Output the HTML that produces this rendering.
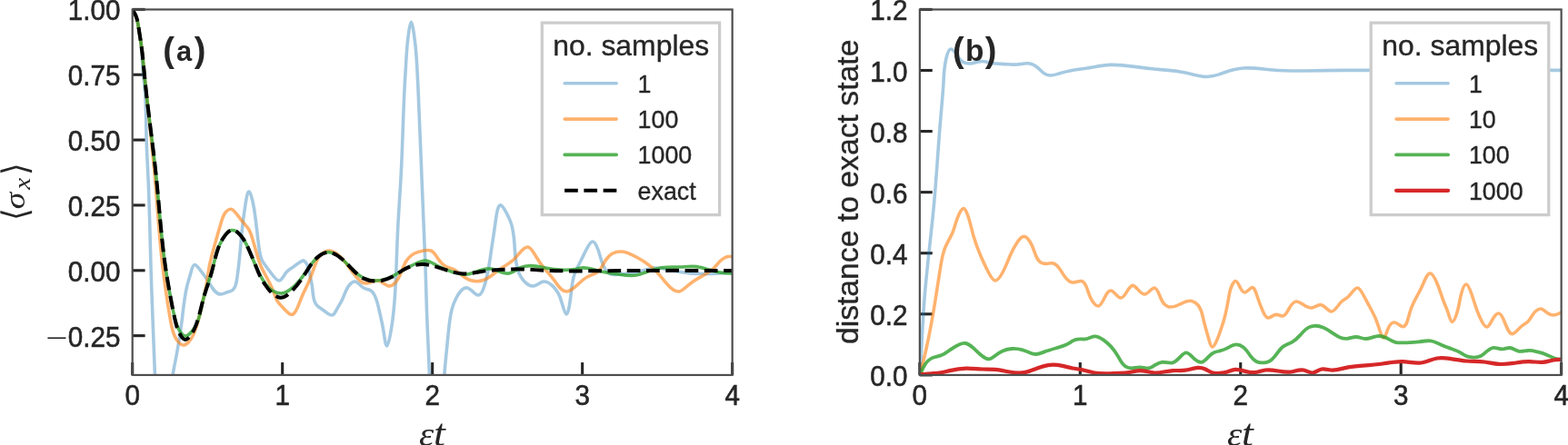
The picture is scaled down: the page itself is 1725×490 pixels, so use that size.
<!DOCTYPE html>
<html lang="en">
<head>
<meta charset="utf-8">
<title>Sampling convergence</title>
<style>
html,body{margin:0;padding:0;background:#ffffff;}
body{width:1725px;height:490px;overflow:hidden;}
svg{display:block;}
text{font-family:'Liberation Sans', sans-serif;fill:#262626;}
.tk{stroke:#262626;stroke-width:0.6px;}
.lg{stroke:#262626;stroke-width:0.35px;}
.m{font-family:'Liberation Serif', serif;font-style:italic;}
</style>
</head>
<body>
<svg width="1725" height="490" viewBox="0 0 1725 490">
<rect x="0" y="0" width="1725" height="490" fill="#ffffff"/>
<defs>
<clipPath id="clip_a"><rect x="145.70" y="10.45" width="659.95" height="402.50"/></clipPath>
<clipPath id="clip_b"><rect x="1011.85" y="10.45" width="705.80" height="402.50"/></clipPath>
</defs>
<g id="panel-a">
<g stroke="#262626" stroke-width="3.10" fill="none">
<line x1="145.70" y1="412.95" x2="145.70" y2="399.05"/>
<line x1="310.69" y1="412.95" x2="310.69" y2="399.05"/>
<line x1="475.68" y1="412.95" x2="475.68" y2="399.05"/>
<line x1="640.66" y1="412.95" x2="640.66" y2="399.05"/>
<line x1="805.65" y1="412.95" x2="805.65" y2="399.05"/>
<line x1="145.70" y1="10.40" x2="159.60" y2="10.40"/>
<line x1="145.70" y1="82.25" x2="159.60" y2="82.25"/>
<line x1="145.70" y1="154.10" x2="159.60" y2="154.10"/>
<line x1="145.70" y1="225.95" x2="159.60" y2="225.95"/>
<line x1="145.70" y1="297.80" x2="159.60" y2="297.80"/>
<line x1="145.70" y1="369.65" x2="159.60" y2="369.65"/>
</g>
<g clip-path="url(#clip_a)">
<path d="M145.50,10.30C146.89,12.48 148.28,14.67 149.30,17.00C151.07,21.05 151.73,25.55 152.40,30.00C153.42,36.72 154.48,43.33 155.20,50.00C156.28,59.93 156.61,70.00 157.50,80.00C158.04,86.01 158.77,92.00 159.30,98.00C160.81,115.26 160.57,132.66 161.00,150.00C161.38,165.35 162.29,180.66 163.00,196.00C164.50,228.66 165.06,261.45 166.00,294.00C166.94,326.56 168.25,358.87 169.60,392.00C169.88,398.76 170.15,405.56 170.40,412.00C171.48,440.35 171.92,461.87 174.00,500.00C175.42,526.10 177.61,559.99 180.00,560.00C182.39,560.01 184.99,526.15 186.00,500.00C187.47,461.79 185.54,440.03 190.20,412.00C191.28,405.52 192.71,398.71 194.00,392.00C196.45,379.32 198.42,367.02 200.00,354.00C201.67,340.31 202.91,325.83 206.00,314.00C207.11,309.74 208.47,305.82 210.00,300.00C210.99,296.24 212.06,291.69 214.00,291.50C215.69,291.34 218.03,294.45 220.00,297.00C223.29,301.27 225.53,303.98 228.00,308.00C231.98,314.48 236.53,324.35 243.00,324.00C245.16,323.88 247.54,322.63 250.00,321.80C252.17,321.07 254.40,320.68 256.00,319.40C257.56,318.15 258.52,316.07 259.20,314.00C260.20,310.98 260.60,308.00 261.00,305.00C261.48,301.38 261.96,297.73 262.40,294.00C263.91,281.16 264.93,267.35 266.00,256.00C266.88,246.70 267.79,239.05 270.00,225.00C271.03,218.46 272.34,210.52 274.00,211.00C275.33,211.38 276.90,217.20 278.00,222.00C279.72,229.48 280.34,234.49 281.00,240.00C282.14,249.44 283.42,260.37 284.70,271.00C285.37,276.60 286.04,282.12 288.50,287.00C290.13,290.24 292.55,293.20 294.70,296.00C296.43,298.25 297.97,300.38 300.00,303.00C302.13,305.75 304.78,309.02 307.00,309.00C309.90,308.97 312.07,303.31 314.90,299.90C316.77,297.64 318.93,296.37 321.10,294.90C323.17,293.50 325.25,291.92 327.30,290.50C328.89,289.40 330.45,288.39 332.30,287.40C332.80,287.13 333.31,286.87 333.80,286.90C334.42,286.94 335.00,287.47 335.50,288.00C336.55,289.12 337.29,290.27 337.90,291.50C339.60,294.95 340.22,299.03 341.00,303.00C341.86,307.41 342.91,311.68 343.50,316.00C343.96,319.35 344.14,322.72 344.70,326.20C345.28,329.79 346.27,333.48 348.50,336.10C350.48,338.42 353.45,339.90 356.00,341.80C358.35,343.55 360.35,345.66 363.20,346.60C364.00,346.86 364.86,347.03 365.60,346.90C367.46,346.57 368.53,344.34 369.60,342.30C372.33,337.11 375.11,333.19 377.10,328.70C379.24,323.86 380.47,318.36 384.50,313.70C386.10,311.85 388.14,310.14 390.00,310.00C393.43,309.75 396.24,314.87 400.00,317.00C402.63,318.49 405.72,318.53 408.00,320.00C409.71,321.10 410.97,323.01 412.00,325.00C414.70,330.20 415.85,335.91 417.00,341.00C418.68,348.44 420.35,354.54 422.00,365.00C423.10,372.00 424.19,380.94 425.60,381.00C427.03,381.06 428.78,372.02 430.00,365.00C431.64,355.61 432.33,349.84 433.00,343.00C433.55,337.43 434.08,331.15 434.50,325.00C435.23,314.43 435.62,304.26 436.00,294.00C436.59,277.79 437.12,261.39 438.00,245.00C438.88,228.59 440.10,212.20 441.00,196.00C442.80,163.62 443.33,131.98 445.00,98.00C445.65,84.81 446.47,71.27 447.20,60.00C447.66,52.86 448.09,46.63 449.60,36.00C450.36,30.70 451.38,24.30 452.40,24.30C453.42,24.30 454.43,30.70 455.20,36.00C456.75,46.64 457.36,52.86 457.90,60.00C458.74,71.25 459.40,84.81 460.00,98.00C461.55,132.00 462.73,163.59 464.00,196.00C464.64,212.21 465.30,228.61 466.00,245.00C466.70,261.39 467.45,277.75 468.00,294.00C468.55,310.25 468.90,326.39 469.50,343.00C470.33,366.07 471.64,390.04 472.40,411.00C473.28,435.35 473.42,455.62 476.00,490.00C477.32,507.53 479.27,528.72 481.00,530.00C483.16,531.59 484.97,502.24 486.00,480.00C487.42,449.43 487.38,432.28 489.00,411.00C489.99,398.00 491.60,383.46 493.00,369.00C493.94,359.31 494.79,349.65 497.00,341.00C498.09,336.74 499.51,332.72 502.00,328.00C504.91,322.48 509.28,315.99 514.00,317.00C518.18,317.89 522.63,324.67 526.00,325.00C529.77,325.37 532.20,317.69 534.00,311.00C537.64,297.49 538.73,288.03 540.00,279.00C541.34,269.47 542.90,260.43 545.00,245.00C546.22,236.06 547.62,224.96 551.00,226.00C553.07,226.63 555.87,231.82 558.00,236.00C559.71,239.37 560.99,242.09 562.00,245.00C564.50,252.20 565.44,260.59 566.00,269.00C566.75,280.19 566.84,291.40 571.00,301.00C572.21,303.80 573.77,306.46 576.00,309.00C578.96,312.38 583.10,315.54 587.00,315.00C590.76,314.48 594.28,310.51 598.00,310.00C602.28,309.41 606.81,313.38 610.00,317.00C612.68,320.04 614.42,322.83 616.00,327.00C618.74,334.25 621.01,345.66 623.00,346.00C625.12,346.36 626.91,334.12 628.00,325.00C629.18,315.14 629.53,308.93 632.00,302.00C633.98,296.42 637.34,290.38 640.00,285.00C641.90,281.16 643.45,277.65 646.00,273.00C647.75,269.81 649.97,266.08 652.00,266.00C654.38,265.91 656.51,270.85 658.00,275.00C660.60,282.29 661.23,287.16 664.00,293.00C665.76,296.71 668.39,300.80 672.00,302.00C674.40,302.80 677.23,302.32 680.00,302.00C686.96,301.20 693.50,301.39 700.00,300.00C706.66,298.58 713.27,295.50 720.00,295.00C726.60,294.51 733.32,296.51 740.00,298.00C746.68,299.49 753.31,300.46 760.00,301.00C770.59,301.86 781.34,301.66 792.00,301.00C796.51,300.72 801.01,300.36 805.50,300.00" fill="none" stroke="#1f77b4" stroke-opacity="0.40" stroke-width="3.60" stroke-linejoin="round" stroke-linecap="round"/>
<path d="M145.50,10.30C146.89,12.48 148.28,14.67 149.30,17.00C151.07,21.05 151.71,25.55 152.40,30.00C153.44,36.73 154.59,43.34 155.50,50.00C156.58,57.95 157.33,65.98 158.10,74.00C158.87,82.01 159.67,90.01 160.50,98.00C163.88,130.65 167.69,163.26 170.50,196.00C173.31,228.70 175.13,261.52 179.00,294.00C180.19,303.99 181.57,313.95 183.00,324.00C184.72,336.12 186.50,348.37 189.00,360.00C190.11,365.15 191.36,370.18 195.00,375.00C197.01,377.66 199.76,380.27 202.40,380.00C204.44,379.80 206.41,377.89 208.00,376.00C209.67,374.02 210.91,372.06 212.00,370.00C215.97,362.50 217.95,353.65 220.00,345.00C222.95,332.52 226.06,320.44 228.00,308.00C228.69,303.58 229.23,299.12 230.00,294.70C231.75,284.64 234.65,274.84 237.50,265.00C239.58,257.81 241.64,250.60 243.70,243.50C244.75,239.88 245.81,236.29 248.60,233.20C250.09,231.55 252.08,230.04 253.90,230.20C255.63,230.35 257.22,232.03 258.60,233.60C260.50,235.76 262.02,237.74 263.60,239.80C265.16,241.85 266.78,243.97 268.50,246.00C270.24,248.04 272.09,249.98 273.50,252.20C275.45,255.26 276.55,258.85 277.60,262.40C279.21,267.84 280.68,273.20 282.20,278.60C283.62,283.64 285.08,288.72 287.20,293.50C288.33,296.06 289.66,298.53 291.00,301.00C294.55,307.53 298.23,313.99 300.80,321.00C302.06,324.43 303.05,328.00 304.90,331.10C306.86,334.39 309.78,337.15 312.40,339.90C314.15,341.73 315.76,343.56 318.00,345.20C318.98,345.91 320.07,346.59 321.10,346.50C322.18,346.41 323.18,345.47 324.00,344.50C325.57,342.64 326.45,340.64 327.30,338.60C328.98,334.56 330.52,330.31 332.30,326.20C334.68,320.71 337.47,315.44 339.80,310.00C342.38,303.97 344.39,297.74 346.80,291.50C348.50,287.09 350.41,282.67 354.00,279.50C356.24,277.52 359.14,276.03 362.00,276.00C364.80,275.97 367.56,277.33 370.00,279.00C374.04,281.76 377.18,285.34 380.00,289.00C383.99,294.18 387.32,299.51 392.00,305.00C394.86,308.35 398.22,311.76 402.00,312.00C406.44,312.28 411.45,308.20 416.00,309.00C420.26,309.75 424.10,314.77 428.00,315.00C431.72,315.22 435.49,311.08 438.00,307.00C441.86,300.73 442.75,294.61 446.00,289.00C448.33,284.97 451.88,281.20 456.00,279.00C459.04,277.38 462.39,276.62 466.00,276.00C468.77,275.53 471.69,275.14 474.00,276.00C477.48,277.30 479.60,281.43 482.00,285.00C484.25,288.36 486.76,291.23 490.00,293.00C493.08,294.69 496.83,295.38 500.00,297.00C504.41,299.25 507.69,303.30 512.00,306.00C516.70,308.94 522.62,310.28 528.00,309.40C532.33,308.69 536.31,306.54 540.00,304.00C544.20,301.11 548.01,297.72 552.00,295.00C556.57,291.88 561.37,289.66 566.00,285.00C571.34,279.63 576.46,271.02 581.00,272.00C584.25,272.70 587.21,278.33 590.00,283.00C593.38,288.65 596.53,292.91 600.00,297.00C603.15,300.71 606.58,304.28 610.00,309.00C613.88,314.35 617.75,321.17 623.00,321.00C625.26,320.93 627.77,319.55 630.00,318.00C636.03,313.79 639.98,308.24 646.00,305.00C649.92,302.89 654.71,301.75 658.00,299.00C661.54,296.04 663.35,291.22 666.00,287.00C668.08,283.69 670.68,280.76 674.00,279.00C677.00,277.41 680.58,276.77 684.00,277.00C689.72,277.38 694.97,280.20 700.00,283.00C703.43,284.91 706.76,286.82 710.00,289.00C715.12,292.45 720.00,296.57 724.00,301.00C727.39,304.75 730.15,308.73 734.00,313.00C737.76,317.18 742.56,321.64 747.00,321.00C750.15,320.54 753.12,317.52 756.00,315.00C758.66,312.67 761.24,310.76 764.00,309.00C767.83,306.56 771.99,304.41 776.00,302.00C779.61,299.83 783.10,297.46 786.00,294.50C788.09,292.37 789.87,289.94 792.00,287.80C793.48,286.31 795.14,284.96 797.00,284.00C798.26,283.35 799.61,282.87 801.00,282.60C802.48,282.31 803.99,282.26 805.50,282.20" fill="none" stroke="#ff7f0e" stroke-opacity="0.60" stroke-width="3.60" stroke-linejoin="round" stroke-linecap="round"/>
<path d="M145.50,10.30C146.89,12.48 148.28,14.67 149.30,17.00C151.07,21.05 151.71,25.55 152.40,30.00C153.44,36.73 154.59,43.34 155.50,50.00C156.59,57.95 157.33,65.98 158.10,74.00C158.86,82.01 159.65,90.01 160.50,98.00C163.99,130.69 168.68,163.23 172.00,196.00C175.31,228.72 177.26,261.65 182.00,294.00C183.46,303.99 185.20,313.92 187.00,324.00C188.76,333.82 190.58,343.78 193.00,353.00C194.06,357.05 195.24,360.95 198.00,365.00C199.73,367.53 202.07,370.12 204.40,370.00C206.37,369.90 208.33,367.86 210.00,366.00C211.56,364.27 212.87,362.69 214.00,361.00C220.11,351.88 221.16,339.37 224.00,328.00C226.33,318.66 229.87,310.09 232.50,301.00C234.78,293.13 236.37,284.86 238.70,277.30C240.19,272.47 241.97,267.93 245.00,263.00C247.75,258.53 251.51,253.73 255.50,253.50C259.70,253.25 264.13,258.06 267.30,262.60C270.81,267.63 272.76,272.35 274.80,277.30C277.13,282.97 279.58,288.94 282.20,294.70C283.01,296.48 283.84,298.25 284.70,300.00C286.82,304.33 289.13,308.60 292.00,312.50C294.21,315.51 296.76,318.31 300.00,320.30C302.86,322.06 306.26,323.19 309.50,323.00C313.68,322.75 317.57,320.28 321.00,317.50C327.71,312.05 332.61,305.37 337.20,298.50C340.71,293.25 344.04,287.88 349.00,283.50C352.33,280.55 356.40,278.06 360.50,277.80C365.96,277.46 371.48,281.09 376.00,285.00C380.49,288.88 384.00,293.05 388.00,297.00C391.54,300.49 395.47,303.83 400.00,306.00C404.32,308.07 409.20,309.09 414.00,309.00C420.27,308.88 426.41,306.88 432.00,304.00C436.16,301.86 440.01,299.23 444.00,297.00C447.85,294.85 451.84,293.07 456.00,291.00C459.93,289.05 464.02,286.83 468.00,287.00C472.10,287.18 476.08,289.87 480.00,292.00C483.32,293.80 486.59,295.19 490.00,296.60C497.62,299.75 505.93,302.99 514.00,302.00C522.75,300.92 531.22,294.86 540.00,296.00C546.78,296.88 553.75,302.06 560.00,301.00C564.07,300.31 567.84,296.97 572.00,295.00C575.80,293.20 579.93,292.54 584.00,292.60C589.39,292.68 594.68,294.02 600.00,295.00C605.30,295.98 610.62,296.60 616.00,297.00C621.34,297.40 626.73,297.59 632.00,296.60C634.68,296.09 637.34,295.28 640.00,295.00C646.63,294.30 653.34,296.92 660.00,298.60C666.65,300.28 673.24,301.03 680.00,302.00C686.67,302.96 693.50,304.13 700.00,303.00C703.39,302.41 706.69,301.20 710.00,300.00C715.93,297.84 721.88,295.71 728.00,294.80C734.54,293.83 741.27,294.27 748.00,294.00C754.05,293.76 760.09,292.94 766.00,293.60C770.73,294.13 775.37,295.60 780.00,297.00C783.98,298.20 787.95,299.34 792.00,300.00C796.43,300.72 800.97,300.86 805.50,301.00" fill="none" stroke="#2ca02c" stroke-opacity="0.80" stroke-width="3.60" stroke-linejoin="round" stroke-linecap="round"/>
<path d="M145.50,10.30C146.89,12.48 148.28,14.67 149.30,17.00C151.07,21.05 151.71,25.55 152.40,30.00C153.44,36.73 154.59,43.34 155.50,50.00C156.59,57.95 157.33,65.98 158.10,74.00C158.87,82.01 159.65,90.01 160.50,98.00C163.99,130.68 168.67,163.22 172.00,196.00C175.32,228.73 177.29,261.70 182.00,294.00C183.46,303.97 185.17,313.88 187.00,324.00C188.84,334.18 190.79,344.56 193.00,354.00C194.07,358.59 195.21,362.95 198.00,368.00C199.59,370.88 201.73,373.99 204.00,374.00C206.09,374.01 208.31,371.39 210.00,369.00C211.75,366.54 212.94,364.32 214.00,362.00C218.66,351.79 220.75,339.50 224.00,328.00C226.60,318.82 229.94,310.14 232.50,301.00C234.72,293.09 236.35,284.84 238.70,277.30C240.20,272.49 242.00,267.97 245.00,263.00C247.75,258.46 251.51,253.54 255.50,253.30C259.69,253.05 264.14,257.98 267.30,262.60C270.77,267.68 272.69,272.39 274.80,277.30C277.22,282.92 279.90,288.80 282.20,294.70C283.02,296.81 283.80,298.93 284.70,301.00C286.68,305.56 289.25,309.90 292.00,314.00C294.29,317.41 296.72,320.66 300.00,323.50C302.52,325.68 305.55,327.62 308.50,327.80C312.99,328.07 317.31,324.28 321.00,320.50C327.86,313.46 332.54,306.44 337.20,299.00C340.57,293.61 343.94,288.00 349.00,283.50C352.33,280.53 356.40,278.05 360.50,277.80C365.95,277.47 371.46,281.12 376.00,285.00C380.51,288.86 384.07,292.95 388.00,297.00C391.56,300.67 395.42,304.31 400.00,306.60C404.27,308.73 409.16,309.69 414.00,309.60C420.31,309.49 426.52,307.60 432.00,304.60C436.17,302.32 439.91,299.40 444.00,297.00C447.74,294.80 451.77,293.04 456.00,292.00C459.27,291.20 462.65,290.82 466.00,291.00C468.02,291.11 470.02,291.41 472.00,291.80C478.12,293.01 484.00,295.04 490.00,297.00C496.56,299.14 503.25,301.18 510.00,301.40C516.64,301.61 523.32,300.05 530.00,299.00C536.66,297.95 543.32,297.41 550.00,297.00C557.32,296.56 564.66,296.28 572.00,296.40C581.34,296.55 590.67,297.35 600.00,297.80C610.66,298.32 621.33,298.39 632.00,298.40C654.67,298.42 677.33,298.14 700.00,298.00C735.16,297.78 770.33,297.89 805.50,298.00" fill="none" stroke="#000000" stroke-opacity="1.00" stroke-width="4.00" stroke-linejoin="round" stroke-linecap="butt" stroke-dasharray="14.70 6.573"/>
</g>
<rect x="145.70" y="10.45" width="659.95" height="402.50" fill="none" stroke="#4e4e4e" stroke-width="2.20"/>
<text transform="translate(145.70,445.60) scale(0.926,1)" font-size="32.0" text-anchor="middle" class="tk">0</text>
<text transform="translate(310.69,445.60) scale(0.926,1)" font-size="32.0" text-anchor="middle" class="tk">1</text>
<text transform="translate(475.68,445.60) scale(0.926,1)" font-size="32.0" text-anchor="middle" class="tk">2</text>
<text transform="translate(640.66,445.60) scale(0.926,1)" font-size="32.0" text-anchor="middle" class="tk">3</text>
<text transform="translate(805.65,445.60) scale(0.926,1)" font-size="32.0" text-anchor="middle" class="tk">4</text>
<text transform="translate(132.50,22.40) scale(0.926,1)" font-size="32.0" text-anchor="end" class="tk">1.00</text>
<text transform="translate(132.50,94.25) scale(0.926,1)" font-size="32.0" text-anchor="end" class="tk">0.75</text>
<text transform="translate(132.50,166.10) scale(0.926,1)" font-size="32.0" text-anchor="end" class="tk">0.50</text>
<text transform="translate(132.50,237.95) scale(0.926,1)" font-size="32.0" text-anchor="end" class="tk">0.25</text>
<text transform="translate(132.50,309.80) scale(0.926,1)" font-size="32.0" text-anchor="end" class="tk">0.00</text>
<g><text transform="translate(74.60,379.75) scale(1.290,0.720)" font-size="32.0" text-anchor="end">−</text><text transform="translate(132.50,381.65) scale(0.926,1)" font-size="32.0" text-anchor="end" class="tk">0.25</text></g>
<text transform="translate(475.37,490.60) scale(1.100,1)" font-size="37.5" text-anchor="middle" class="m">ε<tspan dx="-0.2" font-size="42">t</tspan></text>
<g transform="translate(27.00,240.00) rotate(-90)">
<text transform="translate(-2.90,2.60) scale(0.900,1)" font-family="'DejaVu Sans', sans-serif" fill="#3c3c3c" font-size="39.1">⟨</text>
<text transform="translate(9.80,0) scale(1.220,1)" class="m" font-size="30.6">σ</text>
<text transform="translate(31.30,5.60) scale(1.146,1)" class="m" font-size="25.6">x</text>
<text transform="translate(47.00,2.60) scale(0.900,1)" font-family="'DejaVu Sans', sans-serif" fill="#3c3c3c" font-size="39.1">⟩</text>
</g>
<text y="66.6" font-weight="bold" font-size="38"><tspan x="179.20" dy="0.9">(</tspan><tspan x="193.90" dy="-0.9" font-size="30.8">a</tspan><tspan x="213.70" dy="0.9">)</tspan></text>
<rect x="596.30" y="25.10" width="195.30" height="211.50" fill="#ffffff" stroke="#cccccc" stroke-width="3.3"/>
<text x="608.20" y="60.80" font-size="32.0" textLength="172.0" lengthAdjust="spacingAndGlyphs" class="lg">no. samples</text>
<line x1="621.2" y1="91.8" x2="678.2" y2="91.8" stroke="#1f77b4" stroke-opacity="0.40" stroke-width="3.60" stroke-linecap="round"/>
<text transform="translate(701.60,101.80) scale(0.976,1)" font-size="27.5" class="lg">1</text>
<line x1="621.2" y1="131.1" x2="678.2" y2="131.1" stroke="#ff7f0e" stroke-opacity="0.60" stroke-width="3.60" stroke-linecap="round"/>
<text transform="translate(701.60,141.10) scale(0.976,1)" font-size="27.5" class="lg">100</text>
<line x1="621.2" y1="170.4" x2="678.2" y2="170.4" stroke="#2ca02c" stroke-opacity="0.80" stroke-width="3.60" stroke-linecap="round"/>
<text transform="translate(701.60,180.40) scale(0.976,1)" font-size="27.5" class="lg">1000</text>
<line x1="621.1" y1="209.8" x2="679.1" y2="209.8" stroke="#000000" stroke-width="4.00" stroke-dasharray="14.70 6.573"/>
<text transform="translate(701.60,219.80) scale(0.976,1)" font-size="27.5" class="lg">exact</text>
</g>
<g id="panel-b">
<g stroke="#262626" stroke-width="3.10" fill="none">
<line x1="1011.85" y1="412.95" x2="1011.85" y2="399.05"/>
<line x1="1188.30" y1="412.95" x2="1188.30" y2="399.05"/>
<line x1="1364.75" y1="412.95" x2="1364.75" y2="399.05"/>
<line x1="1541.20" y1="412.95" x2="1541.20" y2="399.05"/>
<line x1="1717.65" y1="412.95" x2="1717.65" y2="399.05"/>
<line x1="1011.85" y1="412.90" x2="1025.75" y2="412.90"/>
<line x1="1011.85" y1="345.82" x2="1025.75" y2="345.82"/>
<line x1="1011.85" y1="278.74" x2="1025.75" y2="278.74"/>
<line x1="1011.85" y1="211.66" x2="1025.75" y2="211.66"/>
<line x1="1011.85" y1="144.58" x2="1025.75" y2="144.58"/>
<line x1="1011.85" y1="77.50" x2="1025.75" y2="77.50"/>
<line x1="1011.85" y1="10.42" x2="1025.75" y2="10.42"/>
</g>
<g clip-path="url(#clip_b)">
<path d="M1012.40,412.40C1013.66,382.93 1014.92,353.47 1017.40,324.00C1020.15,291.21 1024.41,258.42 1027.40,226.00C1030.38,193.65 1032.10,161.65 1035.00,128.00C1036.12,114.95 1037.42,101.65 1038.00,90.00C1038.40,82.00 1038.45,74.78 1041.00,64.00C1042.09,59.39 1043.63,54.14 1046.00,54.00C1048.10,53.88 1050.84,57.77 1053.00,61.00C1055.02,64.01 1056.53,66.44 1059.00,68.00C1061.21,69.40 1064.18,70.11 1067.00,70.00C1071.19,69.84 1075.04,67.89 1079.00,67.60C1082.93,67.31 1086.97,68.66 1091.00,69.40C1095.67,70.26 1100.34,70.30 1105.00,70.60C1109.65,70.90 1114.30,71.44 1119.00,71.00C1123.71,70.55 1128.48,69.11 1133.00,70.00C1135.88,70.57 1138.65,72.08 1141.00,74.00C1143.79,76.29 1145.97,79.15 1149.00,81.00C1150.80,82.10 1152.91,82.84 1155.00,83.00C1158.37,83.26 1161.70,82.03 1165.00,81.00C1169.01,79.75 1172.98,78.78 1177.00,78.00C1183.26,76.79 1189.64,76.02 1196.00,75.00C1204.68,73.61 1213.30,71.75 1222.00,71.40C1231.30,71.02 1240.68,72.37 1250.00,73.60C1258.01,74.66 1265.98,75.64 1274.00,76.40C1282.01,77.16 1290.08,77.70 1298.00,79.00C1303.37,79.88 1308.67,81.11 1314.00,82.40C1317.64,83.28 1321.30,84.19 1325.00,84.40C1330.69,84.72 1336.48,83.37 1342.00,81.60C1346.73,80.09 1351.26,78.26 1356.00,77.00C1359.91,75.96 1363.95,75.29 1368.00,75.00C1378.66,74.23 1389.32,76.03 1400.00,77.00C1411.99,78.09 1424.00,78.12 1436.00,78.00C1450.67,77.86 1465.33,77.50 1480.00,77.40C1488.67,77.34 1497.33,77.38 1506.00,77.40C1537.33,77.48 1568.67,77.43 1600.00,77.40C1639.17,77.37 1678.33,77.38 1717.50,77.40" fill="none" stroke="#1f77b4" stroke-opacity="0.40" stroke-width="3.60" stroke-linejoin="round" stroke-linecap="round"/>
<path d="M1012.40,412.40C1014.66,402.95 1016.92,393.49 1019.00,384.00C1021.19,374.04 1023.18,364.04 1025.00,354.00C1026.81,344.02 1028.44,334.01 1030.00,324.00C1031.66,313.34 1033.25,302.67 1035.00,292.00C1036.11,285.21 1037.30,278.41 1040.00,272.00C1042.35,266.44 1045.84,261.17 1048.00,256.00C1050.56,249.87 1051.24,243.88 1055.00,236.00C1056.44,232.98 1058.33,229.68 1060.00,229.60C1062.01,229.50 1063.69,234.05 1065.00,238.00C1068.05,247.21 1069.04,253.13 1071.00,260.00C1073.02,267.05 1076.06,275.11 1079.00,282.00C1081.36,287.53 1083.66,292.32 1087.00,299.00C1089.28,303.55 1092.05,308.98 1095.00,309.00C1097.78,309.02 1100.72,304.25 1103.00,300.00C1106.73,293.06 1108.67,287.52 1111.00,282.00C1113.01,277.24 1115.31,272.50 1119.00,267.00C1121.19,263.74 1123.86,260.22 1126.60,260.40C1128.91,260.55 1131.27,263.34 1133.00,266.00C1136.09,270.77 1137.17,275.13 1139.00,280.00C1140.30,283.46 1141.99,287.17 1145.00,289.00C1146.71,290.04 1148.86,290.48 1151.00,290.40C1153.79,290.30 1156.58,289.34 1159.00,290.00C1161.36,290.65 1163.36,292.84 1165.00,295.00C1167.27,297.99 1168.82,300.89 1171.00,304.00C1173.30,307.28 1176.28,310.78 1180.00,311.00C1183.30,311.20 1187.17,308.83 1190.00,309.60C1192.90,310.39 1194.70,314.46 1196.00,318.00C1197.91,323.23 1198.72,327.32 1202.00,332.00C1203.68,334.40 1206.02,336.95 1208.00,337.00C1210.34,337.06 1212.17,333.63 1214.00,330.00C1216.59,324.86 1219.18,319.32 1222.40,320.00C1225.68,320.69 1229.62,327.82 1233.00,328.00C1237.80,328.26 1241.48,314.57 1246.00,314.40C1249.96,314.25 1254.56,324.47 1259.40,324.00C1263.13,323.64 1267.00,316.93 1270.00,317.00C1272.55,317.06 1274.47,322.03 1276.00,326.00C1277.46,329.78 1278.57,332.65 1281.00,335.00C1282.13,336.09 1283.53,337.07 1285.00,337.60C1289.08,339.08 1293.60,337.13 1298.00,335.00C1302.47,332.84 1306.82,330.49 1311.00,331.40C1313.60,331.96 1316.13,333.78 1318.00,336.00C1321.81,340.52 1322.82,346.70 1324.00,352.00C1325.57,359.08 1327.44,364.60 1330.00,374.00C1330.99,377.62 1332.07,381.81 1333.60,382.00C1335.28,382.21 1337.49,377.57 1339.00,374.00C1340.34,370.84 1341.13,368.51 1342.00,366.00C1343.29,362.28 1344.75,358.16 1346.00,354.00C1348.82,344.59 1350.52,334.99 1352.00,326.00C1352.70,321.73 1353.36,317.59 1356.00,313.00C1356.88,311.47 1357.98,309.89 1359.00,309.60C1360.82,309.08 1362.35,312.71 1364.00,316.00C1365.66,319.32 1367.44,322.30 1369.60,322.00C1372.10,321.65 1375.12,316.91 1377.40,316.60C1380.03,316.24 1381.66,321.77 1383.00,326.00C1385.09,332.61 1386.44,336.07 1389.00,342.00C1390.50,345.47 1392.40,349.78 1395.00,350.00C1397.52,350.21 1400.69,346.57 1404.00,346.40C1406.45,346.28 1408.98,348.06 1411.00,348.00C1413.99,347.92 1415.86,343.81 1418.00,340.00C1420.27,335.94 1422.84,332.22 1426.00,332.00C1428.45,331.83 1431.25,333.78 1434.00,335.60C1437.01,337.60 1439.97,339.45 1443.00,339.00C1446.33,338.51 1449.77,335.24 1453.00,335.60C1457.16,336.06 1460.99,342.54 1464.40,343.00C1468.41,343.55 1471.83,335.78 1476.00,332.00C1478.24,329.97 1480.70,329.09 1483.00,327.00C1486.89,323.46 1490.33,316.46 1493.60,317.00C1495.90,317.38 1498.11,321.48 1500.00,325.00C1503.14,330.84 1505.40,335.09 1508.00,340.00C1509.71,343.23 1511.57,346.75 1513.00,350.00C1514.90,354.33 1516.02,358.18 1518.00,364.00C1519.19,367.50 1520.69,371.71 1522.00,372.00C1523.64,372.36 1524.98,366.61 1527.00,362.00C1528.79,357.92 1531.12,354.74 1534.00,355.00C1536.94,355.27 1540.45,359.12 1543.00,359.60C1547.43,360.43 1548.97,351.10 1551.00,344.00C1553.54,335.12 1556.82,329.75 1560.00,324.00C1561.62,321.07 1563.21,318.04 1565.00,314.00C1567.48,308.41 1570.33,300.88 1573.40,301.00C1576.05,301.10 1578.87,306.91 1581.00,312.00C1584.73,320.91 1586.37,327.61 1589.00,334.00C1590.21,336.94 1591.63,339.82 1593.00,344.00C1594.45,348.41 1595.84,354.28 1597.60,354.40C1599.41,354.53 1601.62,348.56 1603.00,344.00C1605.17,336.82 1605.30,333.13 1607.00,326.00C1608.32,320.46 1610.58,312.86 1613.00,313.00C1615.12,313.13 1617.35,319.19 1619.00,324.00C1622.21,333.35 1623.23,338.00 1627.00,347.00C1629.44,352.85 1633.05,360.53 1636.00,360.00C1638.28,359.59 1640.17,354.29 1643.00,350.00C1644.74,347.36 1646.83,345.11 1648.60,345.00C1651.21,344.85 1653.13,349.34 1655.00,354.00C1657.76,360.87 1660.41,368.09 1664.00,367.60C1666.59,367.25 1669.68,362.87 1673.00,360.00C1675.82,357.56 1678.81,356.21 1681.00,354.00C1683.98,351.00 1685.46,346.41 1689.00,343.00C1690.75,341.32 1692.99,339.92 1695.00,340.00C1697.83,340.11 1700.19,343.13 1703.00,345.00C1704.88,346.26 1706.97,347.00 1709.00,347.00C1711.90,347.00 1714.70,345.50 1717.50,344.00" fill="none" stroke="#ff7f0e" stroke-opacity="0.60" stroke-width="3.60" stroke-linejoin="round" stroke-linecap="round"/>
<path d="M1012.40,412.40C1013.73,409.00 1015.05,405.60 1017.00,402.40C1019.00,399.11 1021.66,396.04 1025.00,394.40C1028.08,392.88 1031.73,392.58 1035.00,391.40C1038.65,390.09 1041.83,387.68 1045.00,385.40C1048.17,383.12 1051.31,380.95 1055.00,379.40C1057.26,378.45 1059.71,377.73 1062.00,378.00C1065.36,378.40 1068.36,380.94 1071.00,383.40C1074.38,386.55 1077.17,389.57 1081.00,392.40C1083.17,394.00 1085.66,395.55 1088.00,395.40C1090.47,395.24 1092.76,393.18 1095.00,391.40C1097.62,389.32 1100.16,387.64 1103.00,386.40C1106.09,385.05 1109.54,384.24 1113.00,384.00C1117.07,383.72 1121.16,384.25 1125.00,385.40C1127.71,386.22 1130.30,387.35 1133.00,388.40C1134.96,389.17 1136.98,389.89 1139.00,390.00C1142.36,390.18 1145.69,388.66 1149.00,387.40C1154.36,385.35 1159.63,383.99 1165.00,382.40C1169.16,381.16 1173.38,379.79 1177.00,377.40C1178.00,376.74 1178.96,376.00 1180.00,375.40C1182.38,374.03 1185.21,373.42 1188.00,373.40C1190.03,373.39 1192.04,373.69 1194.00,373.40C1197.41,372.90 1200.67,370.60 1204.00,370.40C1207.43,370.19 1210.93,372.22 1214.00,374.40C1217.03,376.55 1219.63,378.85 1222.00,381.40C1225.04,384.66 1227.70,388.33 1230.00,392.40C1232.30,396.47 1234.24,400.92 1238.00,403.40C1239.75,404.55 1241.89,405.27 1244.00,405.40C1247.35,405.60 1250.62,404.30 1254.00,404.40C1257.38,404.50 1260.86,405.99 1264.00,405.40C1266.10,405.00 1268.04,403.68 1270.00,402.40C1272.56,400.73 1275.13,399.14 1278.00,398.80C1281.93,398.33 1286.40,400.21 1290.00,399.40C1292.99,398.73 1295.38,396.19 1298.00,393.40C1300.25,391.00 1302.67,388.40 1305.00,388.40C1307.33,388.40 1309.56,391.00 1312.00,393.40C1315.22,396.57 1318.81,399.37 1322.00,398.80C1324.87,398.28 1327.42,395.02 1330.00,392.40C1331.87,390.50 1333.76,388.93 1336.00,388.00C1337.87,387.22 1339.98,386.89 1342.00,386.40C1344.78,385.72 1347.40,384.73 1350.00,383.40C1353.27,381.72 1356.50,379.49 1360.00,379.40C1362.77,379.33 1365.71,380.61 1368.00,382.40C1371.43,385.08 1373.40,388.88 1376.00,392.40C1377.67,394.65 1379.59,396.79 1382.00,398.00C1384.09,399.06 1386.55,399.41 1389.00,399.40C1391.45,399.39 1393.89,399.00 1396.00,398.00C1399.26,396.46 1401.72,393.46 1404.00,390.40C1406.49,387.06 1408.78,383.63 1412.00,381.40C1414.99,379.33 1418.79,378.28 1422.00,376.40C1425.05,374.62 1427.57,372.08 1430.00,369.40C1433.07,366.00 1436.00,362.37 1440.00,360.40C1441.85,359.49 1443.92,358.94 1446.00,358.80C1449.42,358.57 1452.86,359.44 1456.00,360.80C1458.84,362.03 1461.45,363.67 1464.00,365.40C1467.23,367.59 1470.37,369.93 1474.00,371.40C1476.53,372.43 1479.29,373.03 1482.00,372.80C1485.39,372.51 1488.69,370.92 1492.00,371.00C1495.32,371.08 1498.66,372.84 1502.00,373.00C1504.67,373.13 1507.34,372.22 1510.00,371.40C1512.33,370.68 1514.65,370.02 1517.00,370.00C1519.71,369.98 1522.45,370.81 1525.00,372.00C1528.43,373.60 1531.52,375.83 1535.00,376.80C1538.14,377.67 1541.61,377.52 1545.00,377.40C1550.42,377.21 1555.65,377.12 1561.00,376.40C1565.35,375.81 1569.78,374.80 1574.00,375.40C1577.79,375.94 1581.40,377.78 1585.00,379.40C1588.31,380.89 1591.62,382.21 1595.00,383.40C1598.38,384.59 1601.84,385.67 1605.00,387.40C1607.70,388.88 1610.19,390.84 1613.00,392.00C1614.88,392.78 1616.90,393.20 1619.00,393.40C1622.44,393.73 1626.06,393.45 1629.00,392.00C1631.20,390.91 1633.01,389.16 1635.00,387.40C1637.42,385.25 1640.11,383.07 1643.00,382.80C1646.18,382.50 1649.61,384.51 1653.00,384.40C1655.72,384.31 1658.42,382.87 1661.00,383.00C1664.39,383.17 1667.58,386.08 1671.00,386.80C1674.21,387.47 1677.64,386.22 1681.00,386.00C1684.38,385.78 1687.70,386.59 1691.00,387.40C1694.41,388.24 1697.79,389.06 1701.00,390.40C1704.36,391.80 1707.54,393.76 1711.00,394.80C1713.10,395.43 1715.30,395.71 1717.50,396.00" fill="none" stroke="#2ca02c" stroke-opacity="0.80" stroke-width="3.80" stroke-linejoin="round" stroke-linecap="round"/>
<path d="M1012.40,412.40C1016.59,411.99 1020.78,411.58 1025.00,411.30C1028.35,411.08 1031.71,410.94 1035.00,410.40C1038.37,409.85 1041.66,408.90 1045.00,408.10C1050.91,406.69 1056.96,405.79 1063.00,405.70C1068.99,405.61 1074.98,406.32 1081.00,406.50C1085.68,406.64 1090.38,406.46 1095.00,406.90C1099.68,407.35 1104.28,408.44 1109.00,409.30C1114.98,410.39 1121.15,411.12 1127.00,410.10C1131.79,409.27 1136.36,407.26 1141.00,405.50C1144.93,404.01 1148.90,402.69 1153.00,402.10C1158.27,401.34 1163.74,401.79 1169.00,402.90C1172.71,403.68 1176.31,404.79 1180.00,405.50C1183.31,406.14 1186.68,406.45 1190.00,407.10C1194.72,408.03 1199.31,409.64 1204.00,410.50C1212.47,412.06 1221.29,411.20 1230.00,410.90C1234.03,410.76 1238.03,410.75 1242.00,410.10C1246.02,409.45 1250.00,408.15 1254.00,408.10C1259.32,408.03 1264.66,410.16 1270.00,410.50C1276.64,410.92 1283.27,408.56 1290.00,408.10C1294.68,407.78 1299.40,408.37 1304.00,407.70C1308.69,407.02 1313.25,405.02 1318.00,404.90C1320.71,404.83 1323.49,405.38 1326.00,406.50C1328.76,407.73 1331.20,409.66 1334.00,410.50C1336.51,411.25 1339.30,411.14 1342.00,410.90C1344.74,410.66 1347.39,410.28 1350.00,409.50C1353.01,408.60 1355.98,407.17 1359.00,406.90C1362.61,406.58 1366.29,407.91 1370.00,408.90C1373.34,409.79 1376.70,410.39 1380.00,410.10C1384.03,409.75 1387.97,408.07 1392.00,407.50C1396.60,406.85 1401.32,407.67 1406.00,408.50C1410.68,409.33 1415.34,410.19 1420.00,409.50C1424.69,408.80 1429.39,406.53 1434.00,407.50C1437.40,408.22 1440.76,410.70 1444.00,410.50C1447.34,410.30 1450.55,407.24 1454.00,406.50C1457.22,405.81 1460.64,407.12 1464.00,407.50C1469.42,408.11 1474.69,406.28 1480.00,405.10C1485.30,403.92 1490.64,403.38 1496.00,402.90C1501.33,402.42 1506.67,402.00 1512.00,401.50C1515.00,401.22 1518.01,400.92 1521.00,400.50C1528.32,399.48 1535.60,397.78 1543.00,398.10C1549.70,398.39 1556.49,400.34 1563.00,399.50C1569.07,398.72 1574.89,395.51 1581.00,394.50C1585.58,393.74 1590.33,394.22 1595.00,394.90C1601.06,395.78 1606.98,397.00 1613.00,397.50C1619.63,398.05 1626.37,397.71 1633.00,398.50C1638.36,399.14 1643.65,400.52 1649.00,400.90C1654.30,401.28 1659.67,400.69 1665.00,399.90C1671.01,399.01 1676.97,397.86 1683.00,398.10C1687.67,398.28 1692.39,399.29 1697.00,398.90C1701.02,398.56 1704.97,397.14 1709.00,396.50C1711.81,396.05 1714.65,395.98 1717.50,395.90" fill="none" stroke="#d62728" stroke-opacity="1.00" stroke-width="4.20" stroke-linejoin="round" stroke-linecap="round"/>
</g>
<rect x="1011.85" y="10.45" width="705.80" height="402.50" fill="none" stroke="#4e4e4e" stroke-width="2.20"/>
<text transform="translate(1011.85,445.60) scale(0.926,1)" font-size="32.0" text-anchor="middle" class="tk">0</text>
<text transform="translate(1188.30,445.60) scale(0.926,1)" font-size="32.0" text-anchor="middle" class="tk">1</text>
<text transform="translate(1364.75,445.60) scale(0.926,1)" font-size="32.0" text-anchor="middle" class="tk">2</text>
<text transform="translate(1541.20,445.60) scale(0.926,1)" font-size="32.0" text-anchor="middle" class="tk">3</text>
<text transform="translate(1717.65,445.60) scale(0.926,1)" font-size="32.0" text-anchor="middle" class="tk">4</text>
<text transform="translate(998.50,424.90) scale(0.926,1)" font-size="32.0" text-anchor="end" class="tk">0.0</text>
<text transform="translate(998.50,357.82) scale(0.926,1)" font-size="32.0" text-anchor="end" class="tk">0.2</text>
<text transform="translate(998.50,290.74) scale(0.926,1)" font-size="32.0" text-anchor="end" class="tk">0.4</text>
<text transform="translate(998.50,223.66) scale(0.926,1)" font-size="32.0" text-anchor="end" class="tk">0.6</text>
<text transform="translate(998.50,156.58) scale(0.926,1)" font-size="32.0" text-anchor="end" class="tk">0.8</text>
<text transform="translate(998.50,89.50) scale(0.926,1)" font-size="32.0" text-anchor="end" class="tk">1.0</text>
<text transform="translate(998.50,22.42) scale(0.926,1)" font-size="32.0" text-anchor="end" class="tk">1.2</text>
<text transform="translate(1364.45,490.60) scale(1.100,1)" font-size="37.5" text-anchor="middle" class="m">ε<tspan dx="-0.2" font-size="42">t</tspan></text>
<g transform="translate(944.2,211.35) rotate(-90)"><text x="0.00" y="0.00" font-size="32.8" text-anchor="middle" textLength="335.5" lengthAdjust="spacingAndGlyphs" class="lg">distance to exact state</text></g>
<text y="66.6" font-weight="bold" font-size="38"><tspan x="1048.00" dy="0.9">(</tspan><tspan x="1062.00" dy="-0.9" font-size="33.4">b</tspan><tspan x="1083.70" dy="0.9">)</tspan></text>
<rect x="1508.20" y="25.10" width="195.60" height="211.50" fill="#ffffff" stroke="#cccccc" stroke-width="3.3"/>
<text x="1520.30" y="60.80" font-size="32.0" textLength="172.0" lengthAdjust="spacingAndGlyphs" class="lg">no. samples</text>
<line x1="1536.1" y1="91.8" x2="1593.1" y2="91.8" stroke="#1f77b4" stroke-opacity="0.40" stroke-width="3.60" stroke-linecap="round"/>
<text transform="translate(1615.90,101.80) scale(0.976,1)" font-size="27.5" class="lg">1</text>
<line x1="1536.1" y1="131.1" x2="1593.1" y2="131.1" stroke="#ff7f0e" stroke-opacity="0.60" stroke-width="3.60" stroke-linecap="round"/>
<text transform="translate(1615.90,141.10) scale(0.976,1)" font-size="27.5" class="lg">10</text>
<line x1="1536.1" y1="170.4" x2="1593.1" y2="170.4" stroke="#2ca02c" stroke-opacity="0.80" stroke-width="3.80" stroke-linecap="round"/>
<text transform="translate(1615.90,180.40) scale(0.976,1)" font-size="27.5" class="lg">100</text>
<line x1="1536.1" y1="209.8" x2="1593.1" y2="209.8" stroke="#d62728" stroke-opacity="1.00" stroke-width="4.20" stroke-linecap="round"/>
<text transform="translate(1615.90,219.80) scale(0.976,1)" font-size="27.5" class="lg">1000</text>
</g>
</svg>
</body>
</html>
